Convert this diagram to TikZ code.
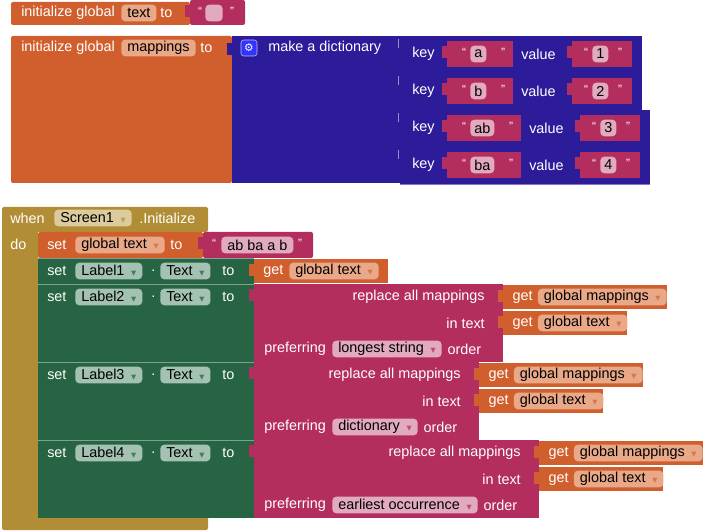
\documentclass[tikz,border=0pt]{standalone}
\usepackage{fontspec}
\setmainfont{Liberation Sans}
\newfontfamily\dejavu{DejaVu Sans}
\definecolor{org}{HTML}{D05F2D}
\definecolor{orgF}{HTML}{E9A887}
\definecolor{gld}{HTML}{B18E35}
\definecolor{gldF}{HTML}{DCCB9C}
\definecolor{grn}{HTML}{266443}
\definecolor{grnF}{HTML}{A4C2B2}
\definecolor{mag}{HTML}{B32D5E}
\definecolor{magF}{HTML}{E1AABF}
\definecolor{blu}{HTML}{2C1C9A}
\newcommand\tri[1]{\hspace{5pt}{\dejavu\fontsize{5}{5}\selectfont\color{#1!85!white}▼}}
\newcommand\blk[5]{\fill[#1,rounded corners=1.5pt] (#2,#3) rectangle (#4,#5);}
\newcommand\tb[3]{\fill[#1] ({#2-5},{#3+5}) rectangle ({#2+1},{#3+17});}
\begin{document}
\begin{tikzpicture}[x=0.75pt,y=-0.75pt,
  lbl/.style={text=white,inner sep=0pt,font=\fontsize{10.8}{12}\selectfont},
  fld/.style={inner xsep=4.5pt,inner ysep=0pt,minimum height=12.5pt,rounded corners=3pt,text=black,font=\fontsize{10.8}{12}\selectfont},
  quo/.style={text=white,inner sep=0pt,font=\fontsize{9}{9}\selectfont}]
\useasboundingbox (0,0) rectangle (715,531);
% ---- init text
\blk{org}{11}{2}{190}{25}
\node[lbl,anchor=west] (i1) at (21,13) {initialize global};
\node[fld,fill=orgF,anchor=west] (f1) at (121,13) {text};
\node[lbl,anchor=west] (t1) at (160,13) {to};
\tb{mag}{190}{0}
\blk{mag}{190}{0}{245}{25}
\node[quo] (q1) at (200,11) {“};
\node[fld,fill=magF,minimum width=13pt,anchor=west] (e1) at (205,13) {};
\node[quo] (q2) at (232,11) {”};
% ---- init mappings
\blk{org}{11}{36}{232}{183}
\node[lbl,anchor=west] (i2) at (21,48) {initialize global};
\node[fld,fill=orgF,anchor=west] (f2) at (121,48) {mappings};
\node[lbl,anchor=west] (t2) at (200,48) {to};
\tb{blu}{232}{38}
\fill[blu] (232,36) rectangle (400,183);
\node[draw=white!70!blu,fill=blue!80!white,rounded corners=2pt,minimum size=12pt,inner sep=0pt,text=white] (gear) at (249,48) {\dejavu\fontsize{8}{8}\selectfont ⚙};
\node[lbl,anchor=west] (mk) at (268,48) {make a dictionary};
\foreach \y/\r/\k/\v/\vx/\vs in {36/642/a/1/521/572, 73/642/b/2/521/572, 110/650/ab/3/529/580, 147/650/ba/4/529/580}{
  \fill[blu] (400,\y) rectangle (\r,\y+37);
  \draw[white!40!blu] (400,\y+37) -- (\r,\y+37);
  \draw[white!50!blu] (398,\y+3) -- (398,\y+12);
  \node[lbl,anchor=west] (k\k) at (412,\y+18) {key};
  \tb{mag}{447}{\y+5}
  \fill[mag] (447,\y+5) rectangle (\vx-8,\y+31);
  \node[quo] (qa\k) at (464,\y+16) {“};
  \node[fld,fill=magF,anchor=west,inner xsep=3pt] (kf\k) at (470,\y+18) {\k};
  \node[quo] (qb\k) at (\vx-18,\y+16) {”};
  \node[lbl,anchor=west] (v\k) at (\vx,\y+18) {value};
  \tb{mag}{\vs}{\y+5}
  \fill[mag] (\vs,\y+5) rectangle (\vs+60,\y+31);
  \node[quo] (qc\k) at (\vs+14,\y+16) {“};
  \node[fld,fill=magF,anchor=west,inner xsep=3pt] (vf\k) at (\vs+20,\y+18) {\v};
  \node[quo] (qd\k) at (\vs+48,\y+16) {”};
}
% ---- when block
\blk{gld}{2}{207}{208}{232}
\fill[gld] (2,228) rectangle (38,522);
\blk{gld}{2}{516}{208}{530}
\node[lbl,anchor=west] (wh) at (10,218) {when};
\node[fld,fill=gldF,anchor=west] (scr) at (54,218) {Screen1\tri{gld}};
\node[lbl,anchor=west] (ini) at (139,218) {.Initialize};
\node[lbl,anchor=west] (do) at (10,244) {do};
% set global text
\blk{org}{38}{232}{203}{258}
\node[lbl,anchor=west] (s0) at (47,245) {set};
\node[fld,fill=orgF,anchor=west] (gt0) at (75,245) {global text\tri{org}};
\node[lbl,anchor=west] (to0) at (170,245) {to};
\tb{mag}{203}{232}
\blk{mag}{203}{232}{313}{258}
\node[quo] (q3) at (214,243) {“};
\node[fld,fill=magF,anchor=west] (abs) at (221,245) {ab ba a b};
\node[quo] (q4) at (300,243) {”};
% green set blocks
\foreach \n/\t/\b in {1/258/284,2/284/362,3/362/440,4/440/518}{
  \fill[grn] (38,\t) rectangle (254,\b);
  \draw[white!40!grn] (38,\t) -- (254,\t);
  \node[lbl,anchor=west] (set\n) at (47,\t+13) {set};
  \node[fld,fill=grnF,anchor=west] (lab\n) at (75,\t+13) {Label\n\tri{grn}};
  \node[lbl,anchor=west] (dot\n) at (151,\t+13) {.};
  \node[fld,fill=grnF,anchor=west] (txt\n) at (160,\t+13) {Text\tri{grn}};
  \node[lbl,anchor=west] (to\n) at (222,\t+13) {to};
}
% get for label1
\tb{org}{254}{259}
\fill[org] (254,259) rectangle (388,283);
\node[lbl,anchor=west] (g1) at (263,271) {get};
\node[fld,fill=orgF,anchor=west] (gf1) at (289,271) {global text\tri{org}};
% replace blocks
\foreach \n/\t/\r/\pref in {2/284/503/longest string,3/362/479/dictionary,4/440/539/earliest occurrence}{
  \tb{mag}{254}{\t}
  \fill[mag] (254,\t) rectangle (\r,\t+78);
  \node[lbl,anchor=east] (ra\n) at (\r-18,\t+13) {replace all mappings};
  \node[lbl,anchor=east] (it\n) at (\r-18,\t+39) {in text};
  \node[lbl,anchor=west] (pr\n) at (264,\t+65) {preferring};
  \node[fld,fill=magF,anchor=west] (pf\n) at (332,\t+65) {\pref\tri{mag}};
  \node[lbl,anchor=west] (or\n) at (pf\n.east) {\hspace{4pt}order};
  \tb{org}{\r}{\t+1}
  \node[fill=org,anchor=west,minimum height=18pt,inner xsep=0pt,inner ysep=0pt] (gm\n) at (\r,\t+13) {\hspace{7pt}\color{white}\fontsize{10.8}{12}\selectfont get\hspace{4pt}\tikz[baseline]\node[fld,fill=orgF,anchor=base]{global mappings\tri{org}};\hspace{5pt}};
  \tb{org}{\r}{\t+27}
  \node[fill=org,anchor=west,minimum height=18pt,inner xsep=0pt,inner ysep=0pt] (gx\n) at (\r,\t+39) {\hspace{7pt}\color{white}\fontsize{10.8}{12}\selectfont get\hspace{4pt}\tikz[baseline]\node[fld,fill=orgF,anchor=base]{global text\tri{org}};\hspace{5pt}};
}
\end{tikzpicture}
\end{document}
